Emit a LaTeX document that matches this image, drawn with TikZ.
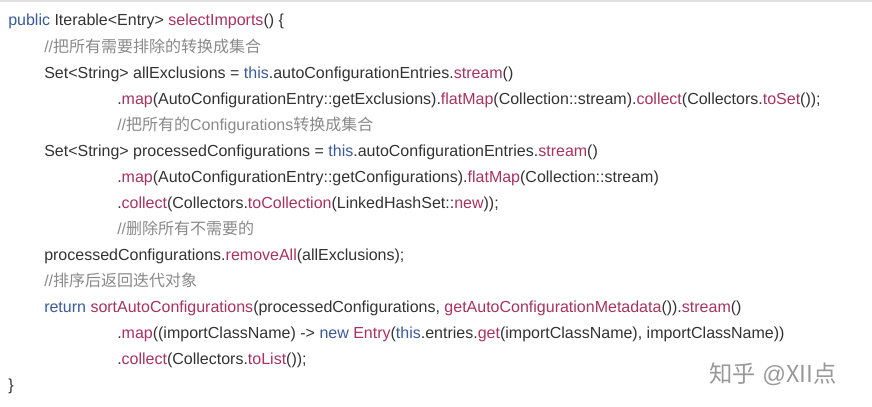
\documentclass[tikz,border=0pt]{standalone}
\usepackage{fontspec}
\setmainfont{Liberation Sans}
\newfontfamily\cjk{Noto Sans CJK SC}
\definecolor{kw}{HTML}{3A5A9A}
\definecolor{fn}{HTML}{A8335F}
\definecolor{cm}{HTML}{8A8A8A}
\definecolor{tx}{HTML}{333333}
\newcommand{\K}[1]{\textcolor{kw}{#1}}
\newcommand{\F}[1]{\textcolor{fn}{#1}}
\begin{document}
\begin{tikzpicture}[x=0.75pt,y=-0.75pt,
  code/.style={anchor=base west,inner sep=0pt,text=tx,font=\fontsize{12}{14}\selectfont},
  cmt/.style={code,text=cm}]
\fill[white] (0,0) rectangle (872,407);
\useasboundingbox (0,0) rectangle (872,407);
\draw[black!12,line width=1.5pt] (0,1) -- (872,1);
\node[code] (l1) at (8,26) {\K{public} Iterable<Entry> \F{selectImports}() \{};
\node[cmt] (l2) at (44,52) {//{\cjk 把所有需要排除的转换成集合}};
\node[code] (l3) at (44,78) {Set<String> allExclusions = \K{this}.autoConfigurationEntries.\F{stream}()};
\node[code] (l4) at (117,104) {.\F{map}(AutoConfigurationEntry::getExclusions).\F{flatMap}(Collection::stream).\F{collect}(Collectors.\F{toSet}());};
\node[cmt] (l5) at (117,130) {//{\cjk 把所有的}Configurations{\cjk 转换成集合}};
\node[code] (l6) at (44,156) {Set<String> processedConfigurations = \K{this}.autoConfigurationEntries.\F{stream}()};
\node[code] (l7) at (117,182) {.\F{map}(AutoConfigurationEntry::getConfigurations).\F{flatMap}(Collection::stream)};
\node[code] (l8) at (117,208) {.\F{collect}(Collectors.\F{toCollection}(LinkedHashSet::\F{new}));};
\node[cmt] (l9) at (117,234) {//{\cjk 删除所有不需要的}};
\node[code] (l10) at (44,260) {processedConfigurations.\F{removeAll}(allExclusions);};
\node[cmt] (l11) at (44,286) {//{\cjk 排序后返回迭代对象}};
\node[code] (l12) at (44,312) {\K{return} \F{sortAutoConfigurations}(processedConfigurations, \F{getAutoConfigurationMetadata}()).\F{stream}()};
\node[code] (l13) at (117,338) {.\F{map}((importClassName) -> \K{new} \F{Entry}(\K{this}.entries.\F{get}(importClassName), importClassName))};
\node[code] (l14) at (117,364) {.\F{collect}(Collectors.\F{toList}());};
\node[code] (l15) at (8,390) {\}};
\node[anchor=base west,inner sep=0pt,text=black!40,font=\fontsize{17.5}{20}\selectfont] (wm) at (709,382) {{\cjk 知乎} @{\cjk XII点}};
\end{tikzpicture}
\end{document}
